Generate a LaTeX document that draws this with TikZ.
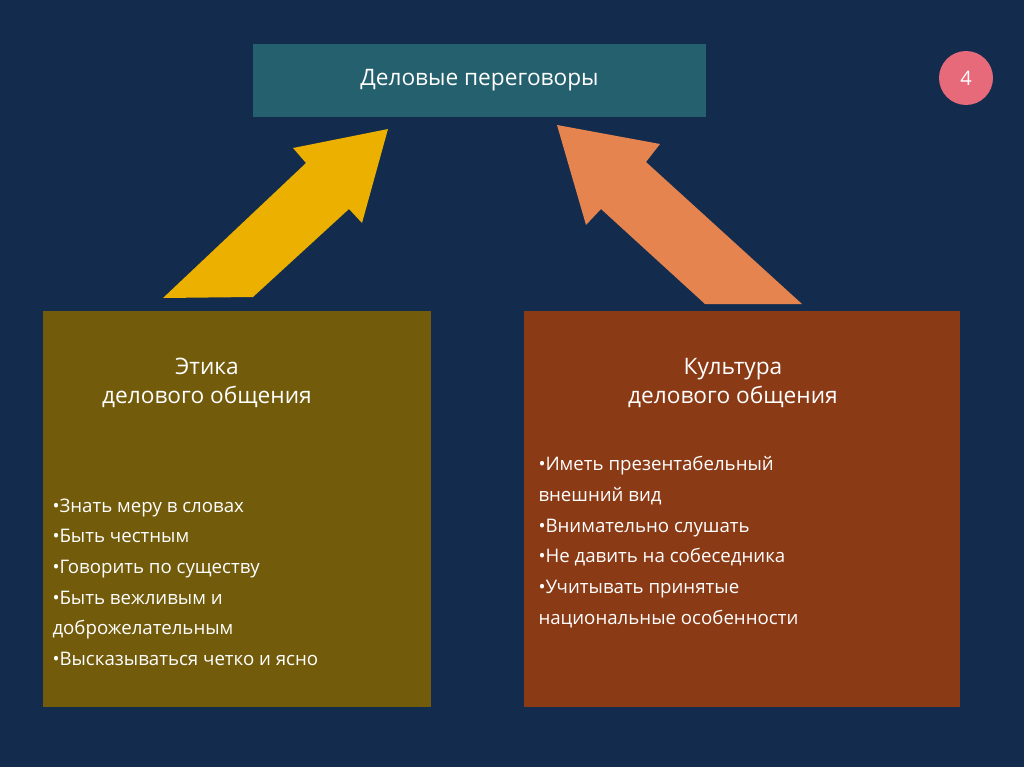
\documentclass[tikz,border=0pt]{standalone}
\usepackage{fontspec}
\setmainfont{Open Sans}
\usetikzlibrary{positioning}
\definecolor{bgblue}{RGB}{19,44,78}
\definecolor{titleteal}{RGB}{36,96,110}
\definecolor{ethic}{RGB}{114,91,11}
\definecolor{cult}{RGB}{139,58,22}
\definecolor{yelarrow}{RGB}{235,176,0}
\definecolor{orarrow}{RGB}{229,132,78}
\definecolor{pinkc}{RGB}{230,106,122}
\tikzset{every picture/.style={line width=0.75pt}}
\tikzset{
  head/.style={font=\fontsize{17}{22}\selectfont, text=white, align=center},
  bullets/.style={font=\fontsize{14}{23}\selectfont, text=white, align=left, anchor=north west, inner sep=0pt}
}

\begin{document}
\begin{tikzpicture}[x=0.75pt,y=0.75pt,yscale=-1,xscale=1]
		\useasboundingbox (0,0) rectangle (1024,767);
		\fill[bgblue] (0,0) rectangle (1024,767);
		
		%Shape: Rectangle [id:title]
		\fill[titleteal] (253,44) rectangle (706,117);
		%Shape: Circle [id:page]
		\fill[pinkc] (966,78) circle (27);
		%Shape: Rectangle [id:ethic]
		\fill[ethic] (43,311) rectangle (431,707);
		%Shape: Rectangle [id:culture]
		\fill[cult] (524,311) rectangle (960,707);
		
		%Shape: Arrow [id:leftarrow]
		\fill[yelarrow] (163,298) -- (306,163) -- (293,148) -- (388,129) -- (362,223) -- (349,209) -- (253,297) -- cycle ;
		%Shape: Arrow [id:rightarrow]
		\fill[orarrow] (705,304) -- (601,209) -- (586,225) -- (557,125) -- (660,144) -- (646,162) -- (802,304) -- cycle ;
		
		% Text Node
		\node[head] (title) at (479.5,80) {Деловые переговоры};
		% Text Node
		\node[font=\fontsize{15}{18}\selectfont, text=white] (page) at (966,78) {4};
		% Text Node
		\node[head] (ethicT) at (207,383) {Этика\\делового общения};
		% Text Node
		\node[head] (cultT) at (733,383) {Культура\\делового общения};
		% Text Node
		\node[bullets] (ethicL) at (52,498) {•Знать меру в словах\\•Быть честным\\•Говорить по существу\\•Быть вежливым и\\доброжелательным\\•Высказываться четко и ясно};
		% Text Node
		\node[bullets] (cultL) at (538,456) {•Иметь презентабельный\\внешний вид\\•Внимательно слушать\\•Не давить на собеседника\\•Учитывать принятые\\национальные особенности};
		\end{tikzpicture}
\end{document}
